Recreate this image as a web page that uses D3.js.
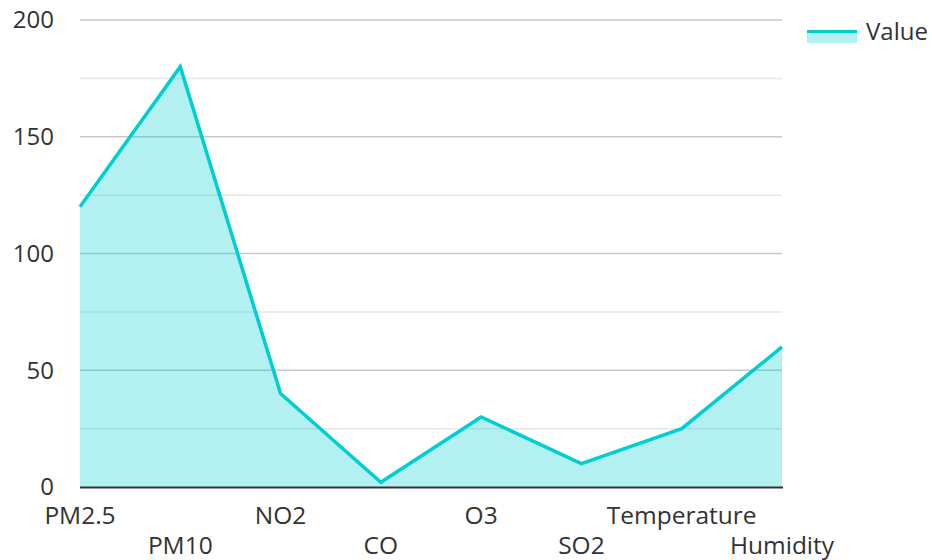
<!DOCTYPE html>
<html>
<head>
<meta charset="utf-8">
<script src="https://cdn.jsdelivr.net/npm/d3@7"></script>
<style>
  html, body { margin: 0; padding: 0; background: #fff; }
  svg { display: block; font-family: "Open Sans", "Noto Sans", sans-serif; }
</style>
</head>
<body>
<svg id="chart" width="932" height="560"></svg>
<script>
const categories = ["PM2.5", "PM10", "NO2", "CO", "O3", "SO2", "Temperature", "Humidity"];
const values = [120, 180, 40, 2, 30, 10, 25, 60];
const majorTicks = [0, 50, 100, 150, 200];
const minorTicks = [25, 75, 125, 175];
const seriesName = "Value";

const W = 932, H = 560;
const margin = { left: 80, right: 150, top: 20, bottom: 73 };
const svg = d3.select("#chart");

const x = d3.scalePoint().domain(categories).range([margin.left, W - margin.right]);
const y = d3.scaleLinear().domain([0, 200]).range([H - margin.bottom, margin.top]);

const lineColor = "#00ced1";

// grid lines
const g = svg.append("g");
g.selectAll("line.minor").data(minorTicks).join("line")
  .attr("x1", margin.left).attr("x2", W - margin.right)
  .attr("y1", d => y(d)).attr("y2", d => y(d))
  .attr("stroke", "#e6e6e6").attr("stroke-width", 1.5);
g.selectAll("line.major").data(majorTicks.filter(d => d !== 0)).join("line")
  .attr("x1", margin.left).attr("x2", W - margin.right)
  .attr("y1", d => y(d)).attr("y2", d => y(d))
  .attr("stroke", "#c8c8c8").attr("stroke-width", 1.5);

// y labels
svg.append("g").selectAll("text").data(majorTicks).join("text")
  .attr("x", 54).attr("y", d => y(d)).attr("dy", "0.35em")
  .attr("text-anchor", "end").attr("font-size", 24).attr("fill", "#333")
  .text(d => d);

const data = categories.map((c, i) => ({ c, v: values[i] }));

// area
const area = d3.area().x(d => x(d.c)).y0(y(0)).y1(d => y(d.v));
svg.append("path").datum(data).attr("d", area)
  .attr("fill", lineColor).attr("fill-opacity", 0.3);

// line
const line = d3.line().x(d => x(d.c)).y(d => y(d.v));
svg.append("path").datum(data).attr("d", line)
  .attr("fill", "none").attr("stroke", lineColor).attr("stroke-width", 3.5)
  .attr("stroke-linejoin", "miter");

// x axis line
svg.append("line")
  .attr("x1", margin.left).attr("x2", W - margin.right + 1)
  .attr("y1", y(0) + 0.5).attr("y2", y(0) + 0.5)
  .attr("stroke", "#333").attr("stroke-width", 2);

// x labels (staggered)
svg.append("g").selectAll("text").data(categories).join("text")
  .attr("x", d => x(d))
  .attr("y", (d, i) => i % 2 === 0 ? 524 : 554)
  .attr("text-anchor", "middle").attr("font-size", 24.5).attr("fill", "#333")
  .text(d => d);

// legend
const lg = svg.append("g");
lg.append("rect").attr("x", 807).attr("y", 32).attr("width", 50).attr("height", 11)
  .attr("fill", lineColor).attr("fill-opacity", 0.3);
lg.append("line").attr("x1", 807).attr("x2", 857).attr("y1", 31.5).attr("y2", 31.5)
  .attr("stroke", lineColor).attr("stroke-width", 3);
lg.append("text").attr("x", 866).attr("y", 32).attr("dy", "0.35em")
  .attr("font-size", 24).attr("fill", "#333").text(seriesName);
</script>
</body>
</html>
